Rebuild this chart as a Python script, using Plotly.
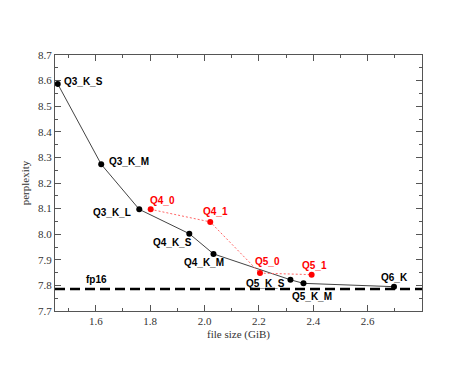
import plotly.graph_objects as go

# Data
k_names = ["Q3_K_S", "Q3_K_M", "Q3_K_L", "Q4_K_S", "Q4_K_M", "Q5_K_S", "Q5_K_M", "Q6_K"]
k_size = [1.46, 1.62, 1.76, 1.944, 2.033, 2.316, 2.364, 2.697]
k_ppl = [8.587, 8.273, 8.097, 8.002, 7.923, 7.822, 7.808, 7.795]

o_names = ["Q4_0", "Q4_1", "Q5_0", "Q5_1"]
o_size = [1.802, 2.021, 2.204, 2.394]
o_ppl = [8.097, 8.048, 7.848, 7.842]

fp16_ppl = 7.786

# label offsets (pixels): (xanchor, xshift, yshift)
k_lab = [("left", 4, 2), ("left", 6, 3), ("right", -6, -3), ("right", 5, -9),
         ("right", 13, -9), ("right", -3, -4), ("left", -13, -13), ("center", 0, 9)]
o_lab = [("left", -3, 9), ("left", -9, 10), ("left", -7, 12), ("left", -12, 9)]

fig = go.Figure()
fig.add_trace(go.Scatter(x=k_size, y=k_ppl, mode="lines+markers",
                         line=dict(color="#444444", width=1),
                         marker=dict(color="black", size=6), showlegend=False))
fig.add_trace(go.Scatter(x=o_size, y=o_ppl, mode="lines+markers",
                         line=dict(color="#ff6666", width=1, dash="2px,2px"),
                         marker=dict(color="#ff0000", size=6), showlegend=False))

fig.add_shape(type="line", xref="paper", x0=0, x1=1, yref="y", y0=fp16_ppl, y1=fp16_ppl,
              line=dict(color="black", width=2.5, dash="10px,5px"))

lab_font = dict(family="Liberation Sans, Arial, sans-serif", size=10, color="black")
for n, x, y, (xa, xs, ys) in zip(k_names, k_size, k_ppl, k_lab):
    fig.add_annotation(x=x, y=y, text="<b>%s</b>" % n, showarrow=False, xanchor=xa,
                       yanchor="middle", xshift=xs, yshift=ys, font=lab_font)
red_font = dict(lab_font, color="#ff0000")
for n, x, y, (xa, xs, ys) in zip(o_names, o_size, o_ppl, o_lab):
    fig.add_annotation(x=x, y=y, text="<b>%s</b>" % n, showarrow=False, xanchor=xa,
                       yanchor="middle", xshift=xs, yshift=ys, font=red_font)
fig.add_annotation(x=1.557, y=fp16_ppl, text="<b>fp16</b>", showarrow=False, xanchor="left",
                   yanchor="middle", yshift=9, font=lab_font)

tick_font = dict(family="Liberation Serif, Times New Roman, serif", size=11, color="#333333")
axis_common = dict(showgrid=False, zeroline=False, showline=True, linecolor="#555555",
                   linewidth=1, mirror="ticks", ticks="inside", ticklen=6, tickcolor="#555555",
                   tickfont=tick_font)
fig.update_xaxes(range=[1.45, 2.8], tickvals=[1.6, 1.8, 2.0, 2.2, 2.4, 2.6],
                 ticktext=["1.6", "1.8", "2.0", "2.2", "2.4", "2.6"],
                 minor=dict(tickvals=[1.5, 1.7, 1.9, 2.1, 2.3, 2.5, 2.7], ticks="inside",
                            ticklen=3, tickcolor="#555555"),
                 title=dict(text="file size (GiB)", font=tick_font, standoff=4), **axis_common)
fig.update_yaxes(range=[7.7, 8.7], dtick=0.1, tickformat=".1f",
                 minor=dict(dtick=0.05, ticks="inside", ticklen=3, tickcolor="#555555"),
                 title=dict(text="perplexity", font=tick_font, standoff=6), **axis_common)

fig.update_layout(width=474, height=366, margin=dict(l=47, r=60, t=47, b=63),
                  plot_bgcolor="white", paper_bgcolor="white")
fig.write_html("out.html")
